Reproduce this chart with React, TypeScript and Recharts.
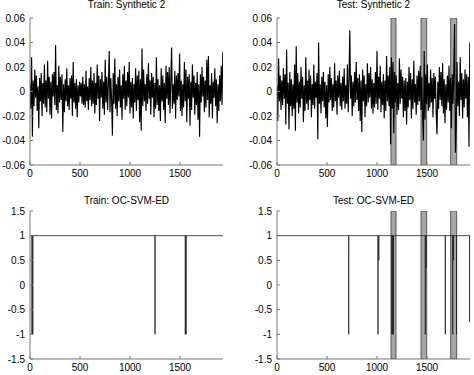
import React from "react";
import { LineChart, Line, XAxis, YAxis, ReferenceArea } from "recharts";

// sample spacing of the plotted signal points
const STEP = 8;
const X_MAX = 1930;
const xTicks = [0, 500, 1000, 1500];
const sigTicks = [-0.06, -0.04, -0.02, 0, 0.02, 0.04, 0.06];
const svmTicks = [-1.5, -1, -0.5, 0, 0.5, 1, 1.5];

// signal values, in thousandths
const trainSignal = [
  6, -14, 28, -37, 9, -12, 18, -5, 13, -16, 4, -30, 11, -8, 15, -20, 7, -10, 22, -13,
  9, -17, 25, -6, 12, -19, 8, -22, 14, -4, 16, -11, 38, -15, 5, -18, 21, -9, 12, -7,
  14, -33, 6, -17, 10, -8, 19, -12, 5, -15, 11, -6, 13, -20, 24, -9, 7, -14, 10, -21,
  5, -9, 8, -4, 7, -10, 12, -11, 6, -13, 17, -8, 4, -15, 11, -7, 20, -12, 9, -10,
  15, -18, 7, -11, 22, -6, 13, -24, 10, -5, 16, -14, 8, -19, 26, -9, 12, -15, 6, 33,
  -17, 11, -7, -36, 15, -10, 27, -14, 6, -20, 12, -8, 18, -13, 5, -23, 14, -6, 21, -15,
  9, -12, 16, -5, 24, -18, 8, -13, 11, -22, 6, -9, 19, -16, 13, -7, 17, -25, 10, -32,
  35, -12, 18, -8, 6, -16, 14, -10, 23, -6, 9, -19, 15, -5, 12, -21, 7, -14, 28, -11,
  10, -16, 5, -24, 19, -8, 13, -15, 7, -26, 21, -6, 16, -11, 20, -18, 9, 36, -14, 6,
  -10, 17, -22, 13, -7, 15, -4, 31, -16, 9, -20, 6, -13, 24, -8, 18, -25, 12, -6, 14,
  -28, 8, -15, 22, -5, 13, -19, 7, -11, 16, -23, 6, -37, 14, -9, 20, -4, 12, -17, 9,
  -13, 26, -7, 29, -21, 5, -10, 15, -22, 8, -5, 19, -12, 10, -26, 6, -16, 13, -8, 21, -11, 32,
];

const testSignal = [
  5, -24, 27, -8, 13, -15, 9, -11, 19, -6, 14, -27, 34, -10, 7, -31, 16, -12, 10, -20,
  6, -14, 22, -32, 37, -9, 15, -18, 8, -13, 20, -6, 12, -25, 5, -16, 28, -10, 9, -15,
  18, -7, 13, -21, 6, -11, 22, -14, 8, -5, 15, -39, 40, -10, 6, -18, 12, -8, 16, -13,
  8, -22, 5, -29, 14, -9, 20, -7, 11, -16, 6, -13, 23, -8, 9, -19, 13, -5, 17, -12,
  7, -15, 12, -8, 19, -14, 5, -10, 22, -17, 10, 50, -6, 13, -20, 8, -12, 16, -9, 24,
  -7, 11, -16, 14, -24, 9, -33, 18, -8, 13, -21, 6, -12, 23, -9, 15, -5, 20, -14, 10,
  -18, 7, -13, 16, -10, 33, -15, 12, -6, 21, -17, 8, -11, 14, -22, 9, -16, 29, -8, 13,
  -12, 20, -43, 28, -14, 24, -34, 16, -9, 13, -19, 7, -15, 27, -10, 18, -6, 12, -21, 9,
  -16, 11, -27, 8, -13, 20, -7, 15, -22, 10, -14, 25, -9, 6, -19, 13, -11, 17, -8, 21,
  -15, 12, -20, -40, 33, -23, 14, -10, 22, -16, 7, -13, 18, -9, 11, -21, 15, -6, 12, -17,
  -35, 8, -14, 20, -7, 16, -12, 23, -18, 10, -26, 6, -15, 13, -9, 21, -16, 11, -30, 14,
  -10, 17, 55, -50, -27, 24, -12, 8, -20, 28, -7, 15, -22, 10, -13, 18, -6, 14, -21, 12, -45, 40,
];

// OC-SVM-ED outputs: sample position and the value it drops to (otherwise +1)
const trainDropX = [20, 28, 1250, 1553, 1561];
const trainDropY = [-1, -1, -1, -1, -1];
const testDropX = [717, 1010, 1018, 1148, 1156, 1164, 1483, 1490, 1683, 1757, 1765, 1795, 1926];
const testDropY = [-1, -1, 0.5, -1, -1, -1, -1, 0.35, -1, -1, 0.5, -1, -0.75];

// anomaly regions in the test set
const bandStart = [1140, 1440, 1737];
const bandEnd = [1190, 1497, 1797];

const toSignal = (vals: number[]) => vals.map((v, i) => ({ x: i * STEP, y: v / 1000 }));
const toSvm = (xs: number[], ys: number[]) => {
  const pts: { x: number; y: number }[] = [{ x: 0, y: 1 }];
  xs.forEach((x, i) => {
    pts.push({ x: x - 0.5, y: 1 });
    pts.push({ x, y: ys[i] });
    pts.push({ x: x + 0.5, y: 1 });
  });
  pts.push({ x: X_MAX, y: 1 });
  return pts;
};

const FONT = "'Liberation Sans', Arial, Helvetica, sans-serif";
const AX = "#777";
const tickStyle = { fill: "#000", fontSize: 10, fontFamily: FONT };

const fmtSig = (v: number) => (Math.abs(v) < 1e-9 ? "0" : v.toFixed(2));
const fmtSvm = (v: number) => String(v);

type PanelProps = {
  left: number;
  top: number;
  width: number;
  height: number;
  yWidth: number;
  marginTop: number;
  marginRight: number;
  xHeight: number;
  data: { x: number; y: number }[];
  yTicks: number[];
  yDomain: [number, number];
  fmt: (v: number) => string;
  bands: boolean;
  title: string;
  titleTop: number;
  strokeWidth: number;
  stroke: string;
};

function Panel(p: PanelProps) {
  const plotLeft = p.yWidth;
  const plotW = p.width - p.yWidth - p.marginRight;
  return (
    <div style={{ position: "absolute", left: p.left, top: p.top, width: p.width, height: p.height }}>
      <div
        style={{
          position: "absolute",
          left: plotLeft,
          top: p.titleTop,
          width: plotW,
          textAlign: "center",
          fontFamily: FONT,
          fontSize: 10,
          lineHeight: "12px",
          color: "#000",
        }}
      >
        {p.title}
      </div>
      <LineChart
        width={p.width}
        height={p.height}
        data={p.data}
        margin={{ top: p.marginTop, right: p.marginRight, bottom: 0, left: 0 }}
      >
        <XAxis
          dataKey="x"
          type="number"
          domain={[0, X_MAX]}
          ticks={xTicks}
          allowDataOverflow
          height={p.xHeight}
          stroke={AX}
          tickSize={-3}
          tickMargin={8}
          tick={tickStyle}
          interval={0}
        />
        <XAxis
          xAxisId="top"
          dataKey="x"
          type="number"
          orientation="top"
          domain={[0, X_MAX]}
          ticks={xTicks}
          allowDataOverflow
          height={0}
          stroke={AX}
          tickSize={-3}
          tick={false}
          interval={0}
        />
        <YAxis
          type="number"
          domain={p.yDomain}
          ticks={p.yTicks}
          allowDataOverflow
          width={p.yWidth}
          stroke={AX}
          tickSize={-3}
          tickMargin={8}
          tick={tickStyle}
          tickFormatter={p.fmt}
          interval={0}
        />
        <YAxis
          yAxisId="r"
          type="number"
          orientation="right"
          domain={p.yDomain}
          ticks={p.yTicks}
          allowDataOverflow
          width={0}
          stroke={AX}
          tickSize={-3}
          tick={false}
          interval={0}
        />
        {p.bands &&
          bandStart.map((s, i) => (
            <ReferenceArea
              key={i}
              x1={s}
              x2={bandEnd[i]}
              y1={p.yDomain[0]}
              y2={p.yDomain[1]}
              fill="#a6a6a6"
              fillOpacity={1}
              stroke="#5a5a5a"
              strokeWidth={1}
              ifOverflow="hidden"
            />
          ))}
        <Line
          type="linear"
          dataKey="y"
          stroke={p.stroke}
          strokeWidth={p.strokeWidth}
          dot={false}
          isAnimationActive={false}
        />
      </LineChart>
    </div>
  );
}

export default function App() {
  return (
    <div style={{ position: "absolute", left: 0, top: 0, width: 474, height: 375, background: "#fff" }}>
      <Panel
        left={0}
        top={0}
        width={237}
        height={190}
        yWidth={30}
        marginTop={18}
        marginRight={14}
        xHeight={25}
        data={toSignal(trainSignal)}
        yTicks={sigTicks}
        yDomain={[-0.06, 0.06]}
        fmt={fmtSig}
        bands={false}
        title="Train: Synthetic 2"
        titleTop={-1}
        strokeWidth={1.15}
        stroke="#000"
      />
      <Panel
        left={237}
        top={0}
        width={237}
        height={190}
        yWidth={40}
        marginTop={18}
        marginRight={4}
        xHeight={25}
        data={toSignal(testSignal)}
        yTicks={sigTicks}
        yDomain={[-0.06, 0.06]}
        fmt={fmtSig}
        bands={true}
        title="Test: Synthetic 2"
        titleTop={-1}
        strokeWidth={1.15}
        stroke="#000"
      />
      <Panel
        left={0}
        top={190}
        width={237}
        height={185}
        yWidth={30}
        marginTop={21}
        marginRight={14}
        xHeight={16}
        data={toSvm(trainDropX, trainDropY)}
        yTicks={svmTicks}
        yDomain={[-1.5, 1.5]}
        fmt={fmtSvm}
        bands={false}
        title="Train: OC-SVM-ED"
        titleTop={5}
        strokeWidth={0.8}
        stroke="#222"
      />
      <Panel
        left={237}
        top={190}
        width={237}
        height={185}
        yWidth={40}
        marginTop={21}
        marginRight={4}
        xHeight={16}
        data={toSvm(testDropX, testDropY)}
        yTicks={svmTicks}
        yDomain={[-1.5, 1.5]}
        fmt={fmtSvm}
        bands={true}
        title="Test: OC-SVM-ED"
        titleTop={5}
        strokeWidth={0.8}
        stroke="#222"
      />
    </div>
  );
}
